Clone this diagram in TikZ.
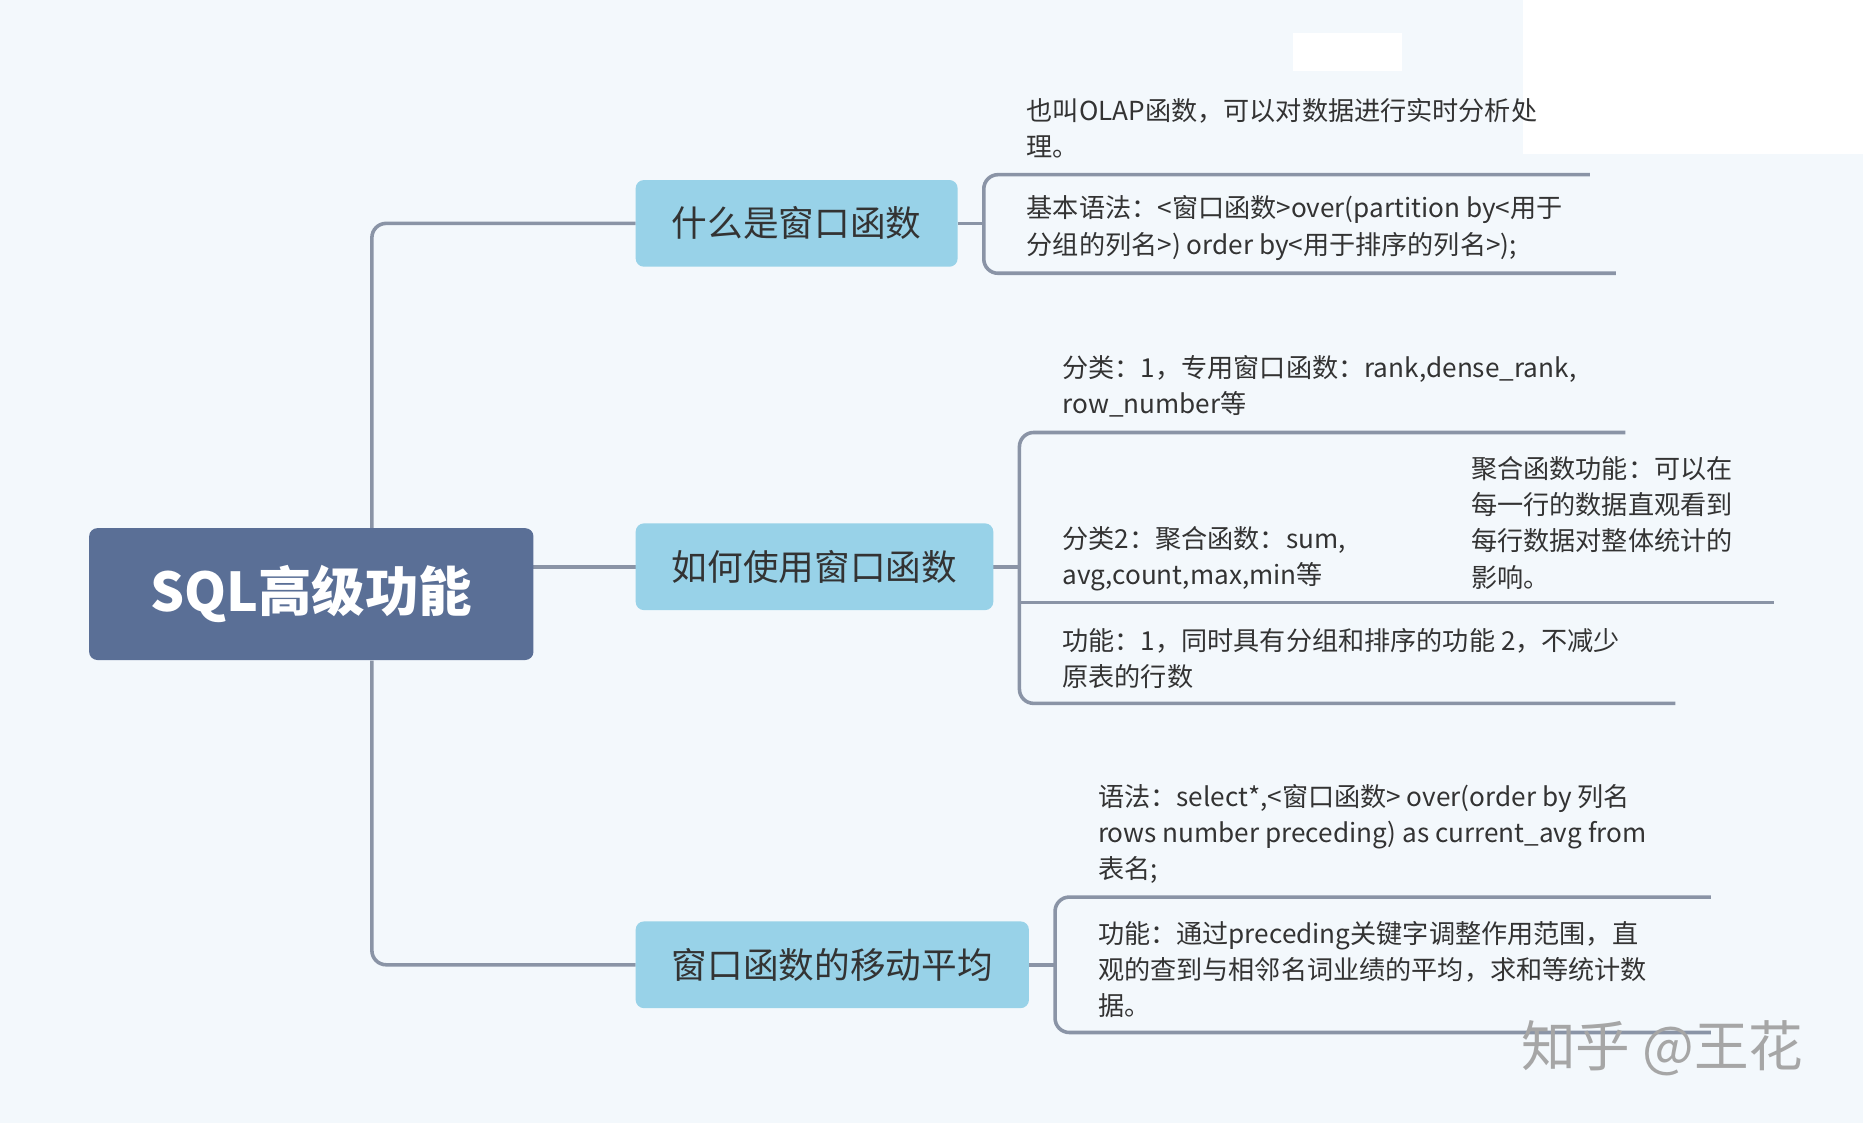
\documentclass[tikz,border=0pt]{standalone}
\usepackage{fontspec}
\setmainfont{Noto Sans CJK SC}
\begin{document}
\begin{tikzpicture}[x=1pt,y=-1pt,
  conn/.style={draw=lineg,line width=3pt,rounded corners=12pt},
  txt/.style={anchor=west,inner sep=0pt,align=left,text=textc,font=\fontsize{22}{30.5}\selectfont},
  lone/.style={fill=lblue,rounded corners=7pt,inner sep=0pt,minimum height=73pt,text=textc,font=\fontsize{30}{32}\selectfont}]
\definecolor{bg}{HTML}{F3F8FC}
\definecolor{lineg}{HTML}{8A94A6}
\definecolor{lblue}{HTML}{98D2E8}
\definecolor{rootc}{HTML}{5A6F96}
\definecolor{textc}{HTML}{333333}
\fill[bg] (0,0) rectangle (1568,945);
\useasboundingbox (0,0) rectangle (1568,945);
\fill[white] (1282,0) rectangle (1568,130);
\fill[white] (1088,28) rectangle (1180,60);
\draw[conn] (313,445) -- (313,188) -- (535,188);
\draw[conn] (313,556) -- (313,812) -- (535,812);
\draw[conn] (449,477) -- (535,477);
\draw[conn] (806,188) -- (828,188);
\draw[conn] (1338,147) -- (828,147) -- (828,230) -- (1360,230);
\draw[conn] (836,477) -- (858,477);
\draw[conn] (1368,364) -- (858,364) -- (858,592) -- (1410,592);
\draw[conn,rounded corners=0pt] (858,507) -- (1493,507);
\draw[conn] (866,812) -- (888,812);
\draw[conn] (1440,755) -- (888,755) -- (888,869) -- (1440,869);
\node[fill=rootc,rounded corners=7pt,minimum width=374pt,minimum height=111pt,text=white,font=\bfseries\fontsize{45}{48}\selectfont] (root) at (262,500) {SQL高级功能};
\node[lone,minimum width=271pt] (n1) at (670.5,188) {什么是窗口函数};
\node[lone,minimum width=301pt] (n2) at (685.5,477) {如何使用窗口函数};
\node[lone,minimum width=331pt] (n3) at (700.5,812) {窗口函数的移动平均};
\node[txt] (t1) at (864,108) {也叫OLAP函数，可以对数据进行实时分析处\\理。};
\node[txt] (t2) at (864,192) {基本语法：<窗口函数>over(partition by<用于\\分组的列名>) order by<用于排序的列名>);};
\node[txt] (t3) at (894,325) {分类：1，专用窗口函数：rank,dense\_rank,\\row\_number等};
\node[txt] (t4) at (894,470) {分类2：聚合函数：sum,\\avg,count,max,min等};
\node[txt] (t5) at (1238,440) {聚合函数功能：可以在\\每一行的数据直观看到\\每行数据对整体统计的\\影响。};
\node[txt] (t6) at (894,554) {功能：1，同时具有分组和排序的功能 2，不减少\\原表的行数};
\node[txt] (t7) at (924,702) {语法：select*,<窗口函数> over(order by 列名\\rows number preceding) as current\_avg from\\表名;};
\node[txt] (t8) at (924,816) {功能：通过preceding关键字调整作用范围，直\\观的查到与相邻名词业绩的平均，求和等统计数\\据。};
\node[anchor=west,inner sep=0pt,text=gray!70,font=\fontsize{46}{48}\selectfont] (wm) at (1280,882) {知乎 @王花};
\end{tikzpicture}
\end{document}
